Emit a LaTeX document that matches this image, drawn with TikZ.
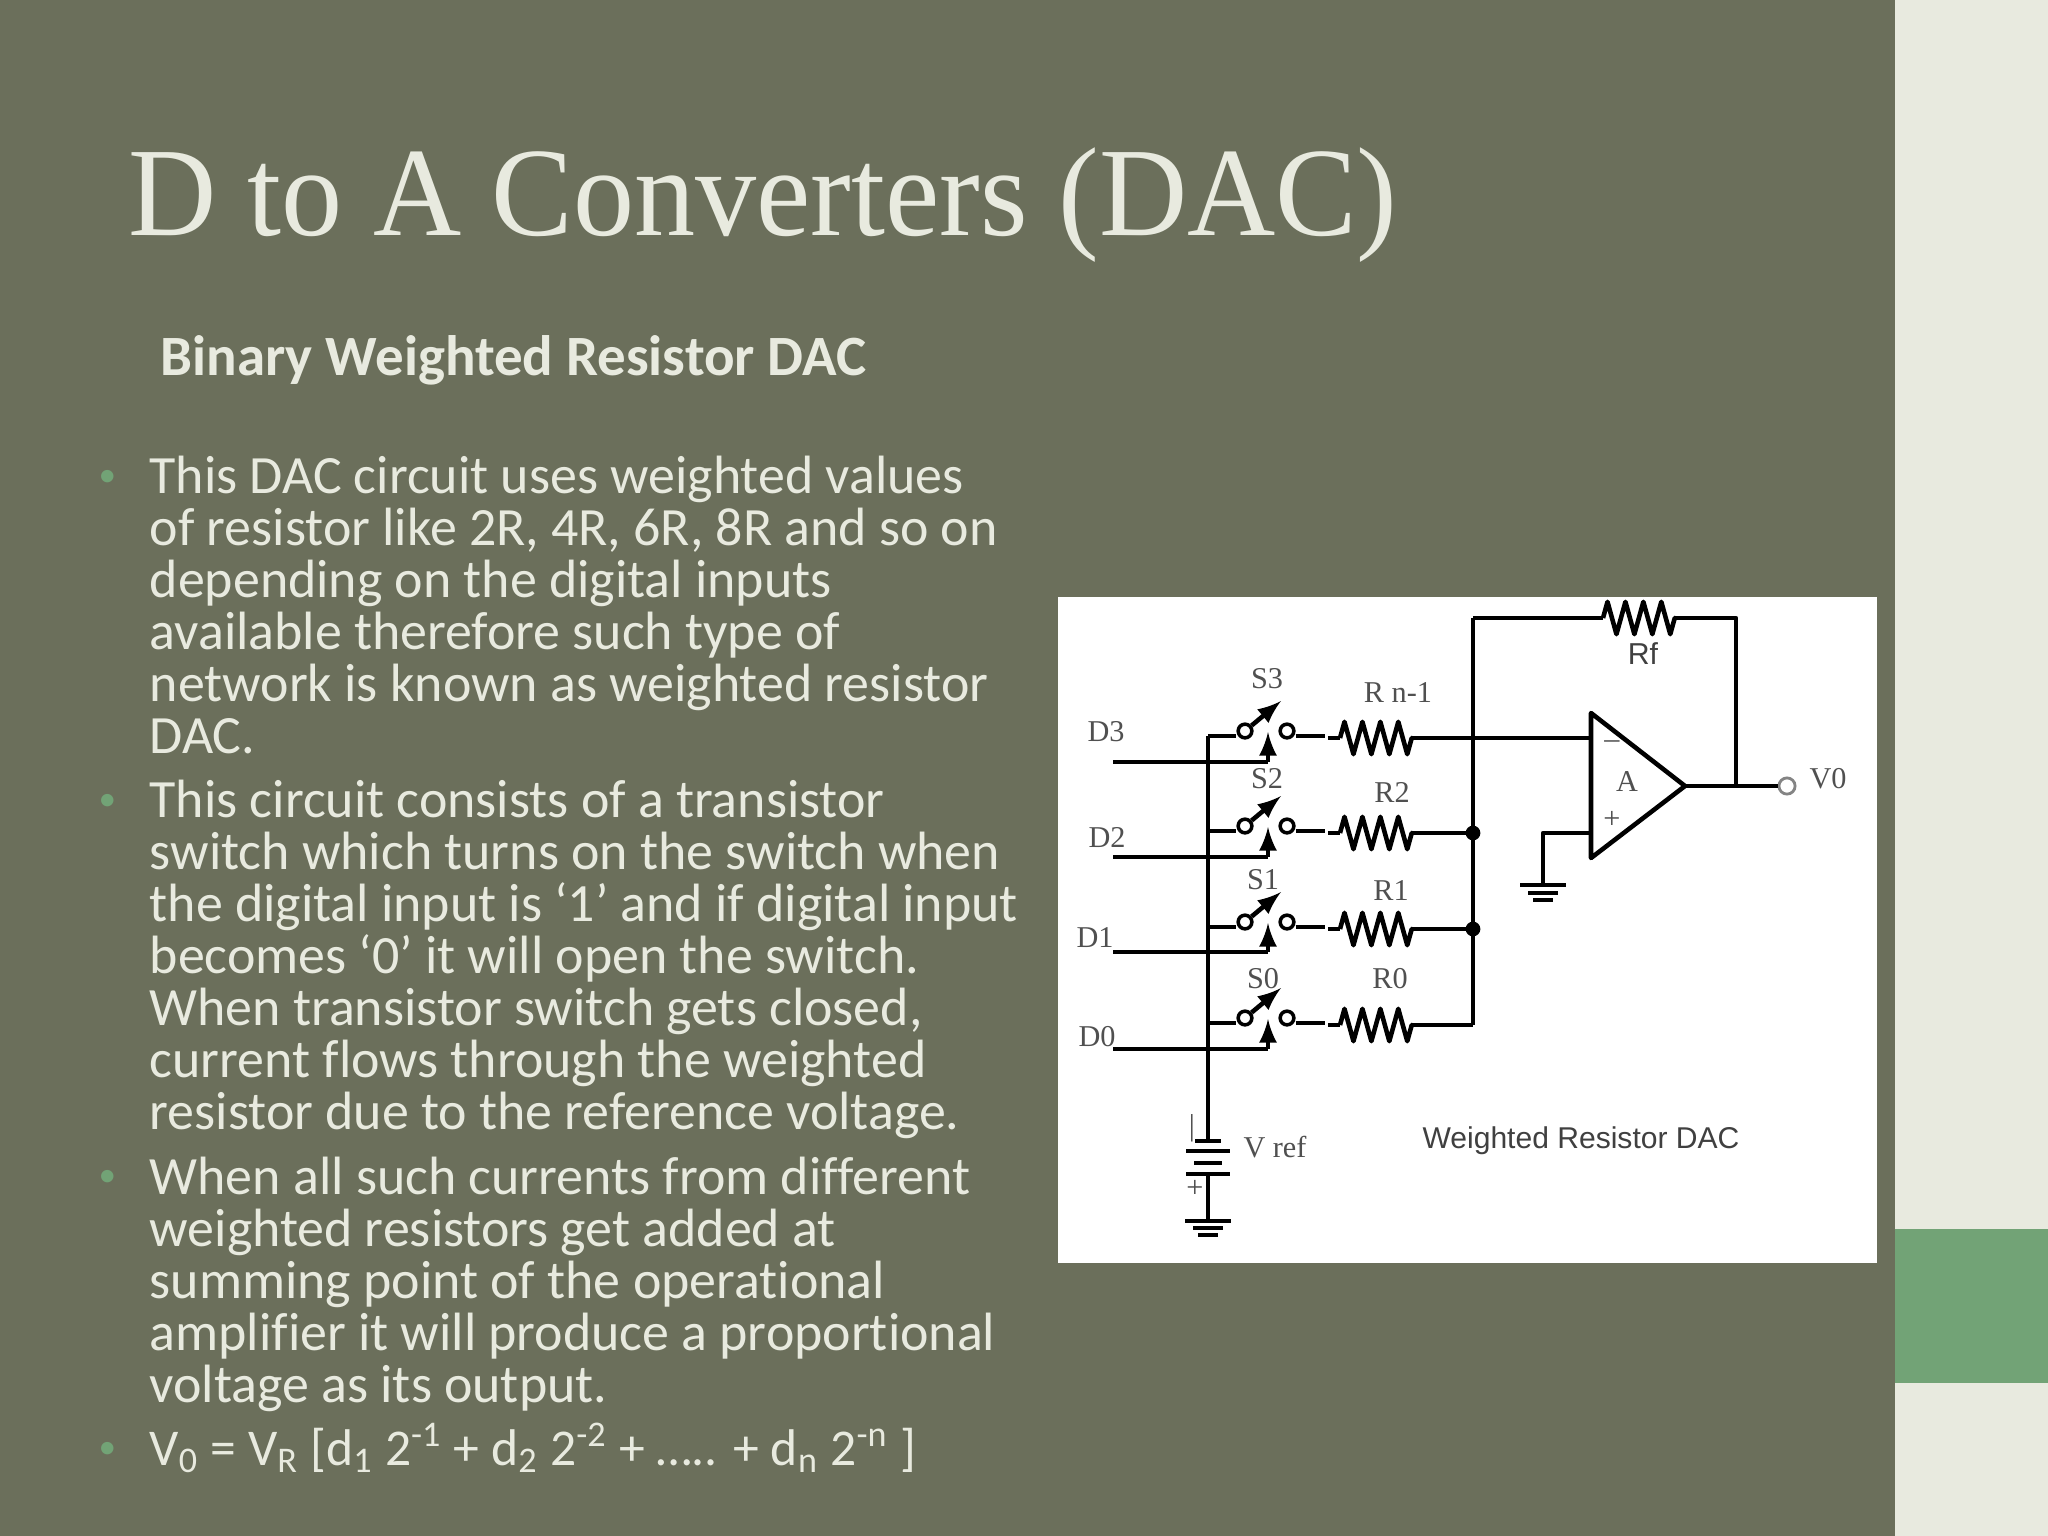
\documentclass[tikz,border=0pt]{standalone}
\usepackage{fontspec}
\setmainfont[Ligatures=NoCommon]{Carlito}
\newfontfamily\titlefont[FakeStretch=0.965]{Liberation Serif}
\newfontfamily\labelfont{Liberation Serif}
\newfontfamily\capfont{Liberation Sans}
\usetikzlibrary{decorations.pathmorphing}
\definecolor{slatebg}{HTML}{6B6F5B}
\definecolor{paleside}{HTML}{E8EADF}
\definecolor{sidegreen}{HTML}{72A376}
\definecolor{labelgray}{HTML}{505050}
\tikzset{
  wire/.style={line width=1.3pt,line join=round},
  zigzagres/.style={wire,decorate,decoration={zigzag,segment length=5.1pt,amplitude=4.6pt}},
  lbl/.style={inner sep=0pt,text=labelgray,font=\labelfont\fontsize{8.6}{10}\selectfont},
  contact/.style={draw,circle,line width=1pt,fill=white,inner sep=0pt,minimum size=3.9pt},
  para/.style={anchor=base west,inner sep=0pt,align=left,text=paleside,font=\fontsize{15.33}{14.8}\selectfont},
  dotmark/.style={anchor=base west,inner sep=0pt,text=sidegreen,font=\fontsize{10}{12}\selectfont},
  joint/.style={fill,circle,inner sep=0pt,minimum size=4.2pt}
}
\begin{document}
\begin{tikzpicture}[x=0.01cm,y=-0.01cm]
  \useasboundingbox (0,0) rectangle (2048,1536);
  % slide
  \fill[paleside] (0,0) rectangle (2048,1536);
  \fill[slatebg] (0,0) rectangle (1895,1536);
  \fill[sidegreen] (1895,1229) rectangle (2048,1383);
  \fill[white] (1058,597) rectangle (1877,1263);
  \node (title) [anchor=base west,inner sep=0pt,text=paleside,font=\titlefont\fontsize{36}{38}\selectfont] at (128,235) {D to A Converters (DAC)};
  \node (sub) [anchor=base west,inner sep=0pt,text=paleside,font=\bfseries\fontsize{16.2}{18}\selectfont] at (160,375) {Binary Weighted Resistor DAC};
  % bullets
  \node (b1) [dotmark] at (98,486) {•};
  \node (b2) [dotmark] at (98,810) {•};
  \node (b3) [dotmark] at (98,1186) {•};
  \node (b4) [dotmark] at (98,1458) {•};
  \node (p1) [para,anchor=north west] at (149,455) {This DAC circuit uses weighted values\\of resistor like 2R, 4R, 6R, 8R and so on\\depending on the digital inputs\\available therefore such type of\\network is known as weighted resistor\\DAC.};
  \node (p2) [para,anchor=north west] at (149,779) {This circuit consists of a transistor\\switch which turns on the switch when\\the digital input is ‘1’ and if digital input\\becomes ‘0’ it will open the switch.\\When transistor switch gets closed,\\current flows through the weighted\\resistor due to the reference voltage.};
  \node (p3) [para,anchor=north west] at (149,1156) {When all such currents from different\\weighted resistors get added at\\summing point of the operational\\amplifier it will produce a proportional\\voltage as its output.};
  \node (p4) [para,font=\fontsize{14.67}{14.8}\selectfont] at (149,1465) {V\textsubscript{0} = V\textsubscript{R} [d\textsubscript{1} 2\textsuperscript{-1} + d\textsubscript{2} 2\textsuperscript{-2} + ….. + d\textsubscript{n} 2\textsuperscript{-n} ]};
  % input rows
  \coordinate (bustop) at (1208,736);
  \coordinate (sumtop) at (1473,618);
  \coordinate (sumbot) at (1473,1025);
  \foreach \n/\wy/\ry/\dy in {3/736/738/762,2/831/833/857,1/927/929/952,0/1023/1025/1049} {
    \coordinate (w\n) at (1208,\wy);
    \coordinate (d\n) at (1113,\dy);
    \coordinate (k\n) at (1268,\dy);
    \coordinate (a\n) at (1268,\wy-4);
    \coordinate (t\n) at (1281,\wy-35);
    \node (l\n) [contact] at (1245,\wy-5) {};
    \node (c\n) [contact] at (1287,\wy-5) {};
    \coordinate (e\n) at (1325,\wy);
    \coordinate (f\n) at (1328,\ry);
    \coordinate (g\n) at (1340,\ry);
    \coordinate (h\n) at (1412,\ry);
    \coordinate (j\n) at (1473,\ry);
    \draw[wire] (w\n) -- (l\n.west |- w\n);
    \draw[wire,-latex] (l\n) -- (t\n);
    \draw[wire] (d\n) -- (k\n);
    \draw[wire,-latex] (k\n) -- (a\n);
    \draw[wire] (c\n.east |- e\n) -- (e\n);
    \draw[wire] (f\n) -- (g\n);
    \draw[zigzagres] (g\n) -- (h\n);
    \draw[wire] (h\n) -- (j\n);
  }
  \draw[wire] (sumtop) -- (sumbot);
  \node (dot2) [joint] at (j2) {};
  \node (dot1) [joint] at (j1) {};
  % battery
  \coordinate (bat1) at (1208,1141);
  \coordinate (bat2) at (1208,1174);
  \coordinate (gnd1) at (1208,1221);
  \draw[wire] (bustop) -- (bat1);
  \draw[wire] (1195,1141) -- (1221,1141);
  \draw[wire] (1186,1151) -- (1230,1151);
  \draw[wire] (1194,1163) -- (1222,1163);
  \draw[wire] (1186,1174) -- (1230,1174);
  \draw[wire] (bat2) -- (gnd1);
  \draw[wire] (1185,1221) -- (1231,1221);
  \draw[wire] (1193,1228) -- (1223,1228);
  \draw[wire] (1198,1235) -- (1218,1235);
  % amplifier
  \coordinate (amp1) at (1591,713);
  \coordinate (amp2) at (1591,858);
  \coordinate (out) at (1685,786);
  \draw[wire] (amp1) -- (amp2) -- (out) -- cycle;
  \draw[wire] (1473,738) -- (1591,738);
  \coordinate (plus) at (1591,833);
  \coordinate (pluscorner) at (1543,833);
  \coordinate (gnd2) at (1543,885);
  \draw[wire] (plus) -- (pluscorner) -- (gnd2);
  \draw[wire] (1520,885) -- (1566,885);
  \draw[wire] (1528,893) -- (1558,893);
  \draw[wire] (1533,900) -- (1553,900);
  \node (vo) [draw=labelgray!70,circle,line width=0.8pt,fill=white,inner sep=0pt,minimum size=4.6pt] at (1787,786) {};
  \draw[wire] (out) -- (vo);
  % feedback
  \coordinate (fb1) at (1603,618);
  \coordinate (fb2) at (1675,618);
  \coordinate (fb3) at (1736,618);
  \coordinate (fb4) at (1736,786);
  \draw[wire] (sumtop) -- (fb1);
  \draw[zigzagres] (fb1) -- (fb2);
  \draw[wire] (fb2) -- (fb3) -- (fb4);
  % labels
  \node (ls3) [lbl] at (1267,679) {S3};
  \node (ls2) [lbl] at (1267,779) {S2};
  \node (ls1) [lbl] at (1263,880) {S1};
  \node (ls0) [lbl] at (1263,979) {S0};
  \node (lr3) [lbl] at (1398,693) {R n-1};
  \node (lr2) [lbl] at (1392,792) {R2};
  \node (lr1) [lbl] at (1391,891) {R1};
  \node (lr0) [lbl] at (1390,979) {R0};
  \node (ld3) [lbl] at (1106,732) {D3};
  \node (ld2) [lbl] at (1107,838) {D2};
  \node (ld1) [lbl] at (1095,938) {D1};
  \node (ld0) [lbl] at (1097,1037) {D0};
  \node (lvref) [lbl] at (1275,1147) {V ref};
  \node (lminus) [lbl] at (1192,1128) {|};
  \node (lplus) [lbl] at (1195,1189) {+};
  \node (la) [lbl] at (1627,782) {A};
  \node (lneg) [lbl] at (1612,745) {–};
  \node (lpos) [lbl] at (1612,820) {+};
  \node (lv0) [lbl] at (1828,779) {V0};
  \node (lrf) [lbl,font=\capfont\fontsize{8.6}{10}\selectfont,text=black!75] at (1643,654) {Rf};
  \node (lcap) [lbl,font=\capfont\fontsize{8.55}{10}\selectfont,text=black!75] at (1581,1141) {Weighted Resistor DAC};
\end{tikzpicture}
\end{document}
